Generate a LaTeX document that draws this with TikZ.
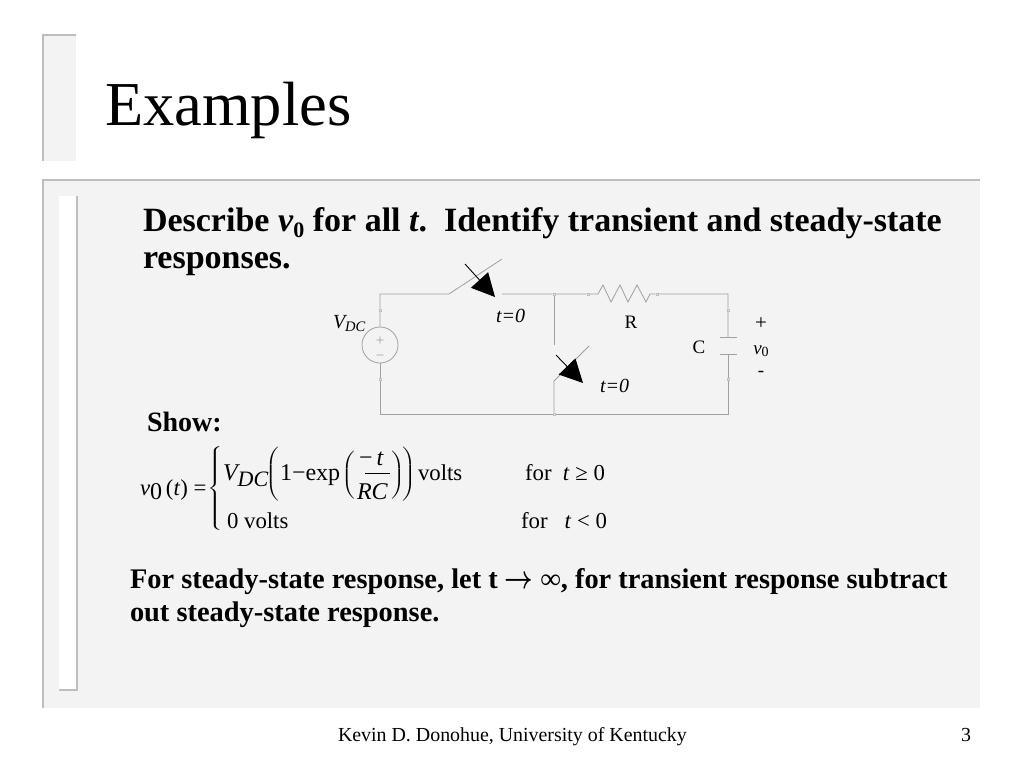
\documentclass[tikz,border=0pt]{standalone}
\usepackage{fontspec}
\usepackage{graphicx}
\setmainfont{Liberation Serif}
\usetikzlibrary{arrows.meta}
\newcommand{\fs}[1]{\fontsize{#1}{#1}\selectfont}
\newcommand{\lowsub}[2]{\raisebox{#1}{#2}}
\definecolor{panelgray}{HTML}{F3F3F3}
\definecolor{edgegray}{HTML}{BEBEBE}
\definecolor{wiregray}{HTML}{A0A0A0}
\tikzset{
  txt/.style={inner sep=0, outer sep=0, anchor=base west},
  ctr/.style={inner sep=0, outer sep=0, anchor=base},
  delim/.style={inner sep=0, outer sep=0, anchor=center},
  body/.style={txt, font=\fs{34}\bfseries},
  note/.style={txt, font=\fs{28.4}\bfseries},
  eqn/.style={txt, font=\fs{22.8}},
  lab/.style={ctr, font=\fs{19}},
  wire/.style={draw=wiregray, line width=0.8pt},
  term/.style={draw=edgegray, fill=none, inner sep=0, minimum size=2.5pt, line width=0.5pt},
  knob/.style={-{Triangle[length=23pt,width=23pt]}, black, line width=0.9pt},
}
\begin{document}
\begin{tikzpicture}[x=1pt, y=-1pt]
\useasboundingbox (0,0) rectangle (1024,768);
% slide frame
\fill[panelgray] (43,35) rectangle (76,161);
\draw[edgegray, line width=1.2pt] (43,161) -- (43,35) -- (76,35);
\fill[panelgray] (43,180) rectangle (980,708);
\draw[edgegray, line width=1.2pt] (43,708) -- (43,180) -- (980,180);
\fill[white] (59,196) rectangle (77,690);
\draw[edgegray, line width=1.2pt] (77,196) -- (77,690) -- (59,690);
\node[txt, font=\fs{62.5}] (title) at (105,125) {Examples};
% text
\node[body] (line1) at (143,231) {Describe \textit{v}\lowsub{-6pt}{\fs{22}0} for all \textit{t}.\ \ Identify transient and steady-state};
\node[body] (line2) at (143,268) {responses.};
\node[note, font=\fs{28}\bfseries] (show) at (147,431) {Show:};
\node[note] (line3) at (130,588) {For steady-state response, let t \scalebox{1}[1.3]{\boldmath$\rightarrow$} ∞, for transient response subtract};
\node[note] (line4) at (130,621) {out steady-state response.};
\node[txt, font=\fs{19.9}] (foot) at (338,741) {Kevin D. Donohue, University of Kentucky};
\node[txt, font=\fs{19.9}] (page) at (961,741) {3};
% circuit
\coordinate (tl) at (380,294);
\coordinate (bl) at (380,414);
\coordinate (tr) at (728,294);
\coordinate (br) at (728,414);
\coordinate (sa) at (449,294);
\coordinate (sb) at (502,259);
\coordinate (sc) at (502,294);
\coordinate (ma) at (554,345);
\coordinate (mb) at (554,381);
\coordinate (mc) at (589,346);
\coordinate (ka) at (465,264);
\coordinate (kb) at (495,297);
\coordinate (kc) at (556,355);
\coordinate (kd) at (583,383);
\coordinate (pa) at (720,337);
\coordinate (pb) at (737,337);
\coordinate (pc) at (720,354);
\coordinate (pd) at (737,354);
\coordinate (pe) at (728,337);
\coordinate (pf) at (728,354);
\node[circle, wire, minimum size=36pt, inner sep=0] (vdc) at (380,345) {};
\node[ctr, font=\fs{15}, text=wiregray] (vp) at (380,345) {+};
\node[ctr, font=\fs{15}, text=wiregray] (vm) at (380,360) {−};
\node[term] (t1) at (380,310) {};
\node[term] (t2) at (380,379) {};
\node[term] (t3) at (554,294) {};
\node[term] (t4) at (554,414) {};
\node[term] (t5) at (588,294) {};
\node[term] (t6) at (657,294) {};
\node[term] (t7) at (728,310) {};
\node[term] (t8) at (728,379) {};
\draw[wire] (vdc) -- (t1) -- (tl) -- (sa) -- (sb);
\draw[wire] (sc) -- (t3) -- (t5) -- (598,294) -- (603,285) -- (611,302) -- (620,285) -- (628,302) -- (637,285) -- (646,302) -- (650,294) -- (t6) -- (tr) -- (t7) -- (pe);
\draw[wire] (pa) -- (pb);
\draw[wire] (pc) -- (pd);
\draw[wire] (pf) -- (t8) -- (br) -- (t4) -- (bl) -- (t2) -- (vdc);
\draw[wire] (t3) -- (ma);
\draw[wire] (t4) -- (mb) -- (mc);
\draw[knob] (ka) -- (kb);
\draw[knob] (kc) -- (kd);
\node[txt, font=\fs{20}\itshape] (vlab) at (333,328) {V\lowsub{-3.5pt}{\fs{14.5}DC}};
\node[txt, font=\fs{20}\itshape] (sw1) at (496,322) {t=0};
\node[txt, font=\fs{20}\itshape] (sw2) at (600,392) {t=0};
\node[lab] (rlab) at (631,328) {R};
\node[lab] (clab) at (699,353) {C};
\node[lab, font=\fs{21}] (plus) at (761,329) {+};
\node[ctr, font=\fs{19}] (vout) at (761,354) {\textit{v}\lowsub{-2.5pt}{\fs{14}0}};
\node[lab] (minus) at (761,376) {-};
% equation
\node[eqn] (lhs) at (140,495) {\textit{v}\lowsub{-4pt}{\fs{24}0}\,(\textit{t}) =};
\node[delim] (brace) at (216,487.5) {\scalebox{1.7}[1]{$\left\{\rule{0pt}{47pt}\right.$}};
\node[eqn, font=\fs{24}\itshape] (vdc2) at (223,480) {V\lowsub{-6pt}{\fs{22}DC}};
\node[delim] (lp1) at (273,473.5) {\scalebox{1.5}[1]{$\left(\rule{0pt}{31pt}\right.$}};
\node[eqn, font=\fs{24}] (exp) at (280,480) {1−exp};
\node[delim] (lp2) at (349,475) {\scalebox{1.5}[1]{$\left(\rule{0pt}{27pt}\right.$}};
\node[eqn, font=\fs{24}] (num) at (359,465) {−\,\textit{t}};
\node[eqn, font=\fs{24}] (den) at (357,499) {\textit{RC}};
\draw[black, line width=0.8pt] (num |- 0,473) ++(-6,0) coordinate (fa) -- (390,473) coordinate (fb);
\node[delim] (rp2) at (397,475) {\scalebox{1.5}[1]{$\left.\rule{0pt}{27pt}\right)$}};
\node[delim] (rp1) at (408,473.5) {\scalebox{1.5}[1]{$\left.\rule{0pt}{31pt}\right)$}};
\node[eqn] (volts) at (418,480) {volts};
\node[eqn] (cond1) at (525,480) {for\ \ \textit{t} ≥ 0};
\node[eqn] (zero) at (227,528) {0 volts};
\node[eqn] (cond2) at (521,528) {for\ \ \ \textit{t} < 0};
\end{tikzpicture}
\end{document}
